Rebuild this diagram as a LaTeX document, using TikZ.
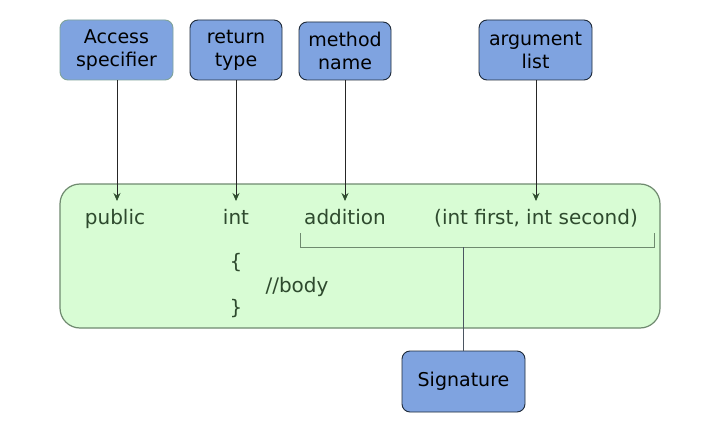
\documentclass[tikz,border=0pt]{standalone}
\usepackage{fontspec}
\setmainfont{DejaVu Sans}
\usetikzlibrary{arrows.meta}
\definecolor{boxfill}{HTML}{7FA3E0}
\definecolor{boxdraw}{HTML}{1E2A3A}
\definecolor{accdraw}{HTML}{7FA39A}
\definecolor{greenfill}{HTML}{D8FCD4}
\definecolor{greendraw}{HTML}{6F8A6F}
\definecolor{codecol}{HTML}{2E4A2E}
\definecolor{arrcol}{HTML}{2F4F2F}
\begin{document}
\begin{tikzpicture}[x=1pt,y=-1pt,
  lbl/.style={draw=boxdraw,fill=boxfill,rounded corners=8pt,line width=0.9pt,align=center,font=\fontsize{19}{23}\selectfont,inner sep=0pt},
  code/.style={text=codecol,font=\fontsize{20}{22}\selectfont,inner sep=0pt,anchor=base},
  arr/.style={draw=black!85,line width=0.8pt,-{Stealth[length=8pt,width=7pt,color=arrcol]}},
  brk/.style={draw=greendraw,line width=1pt}]
\useasboundingbox (0,0) rectangle (720,441);
\fill[white] (0,0) rectangle (720,441);
\node[draw=greendraw,fill=greenfill,rounded corners=20pt,line width=1.2pt,minimum width=600pt,minimum height=144pt,inner sep=0pt] (main) at (360,256) {};
\node[lbl,draw=accdraw,minimum width=113pt,minimum height=60pt] (acc) at (116.5,50) {Access\\specifier};
\node[lbl,minimum width=92pt,minimum height=60pt] (ret) at (236,50) {return\\type};
\node[lbl,minimum width=92pt,minimum height=58pt] (meth) at (345,51) {method\\name};
\node[lbl,minimum width=113pt,minimum height=60pt] (arg) at (535.5,50) {argument\\list};
\node[lbl,minimum width=123pt,minimum height=61pt] (sig) at (463.5,381.5) {Signature};
\node[code] (pub) at (115,224) {public};
\node[code] (int) at (236,224) {int};
\node[code] (add) at (345,224) {addition};
\node[code] (args) at (536,224) {(int first, int second)};
\node[code] (lb) at (236,268) {\{};
\node[code] (body) at (297,292) {//body};
\node[code] (rb) at (236,314) {\}};
\coordinate (pubt) at (117,201);
\coordinate (intt) at (236,201);
\coordinate (addt) at (345,201);
\coordinate (argt) at (536,201);
\draw[arr] (acc.south -| pubt) -- (pubt);
\draw[arr] (ret.south) -- (intt);
\draw[arr] (meth.south) -- (addt);
\draw[arr] (arg.south -| argt) -- (argt);
\coordinate (bl) at (300,233);
\coordinate (br) at (654,233);
\coordinate (bm) at (463,247);
\draw[brk] (bl) -- (bl |- bm) -- (br |- bm) -- (br);
\draw[draw=boxdraw!80,line width=1pt] (bm) -- (bm |- sig.north);
\end{tikzpicture}
\end{document}
